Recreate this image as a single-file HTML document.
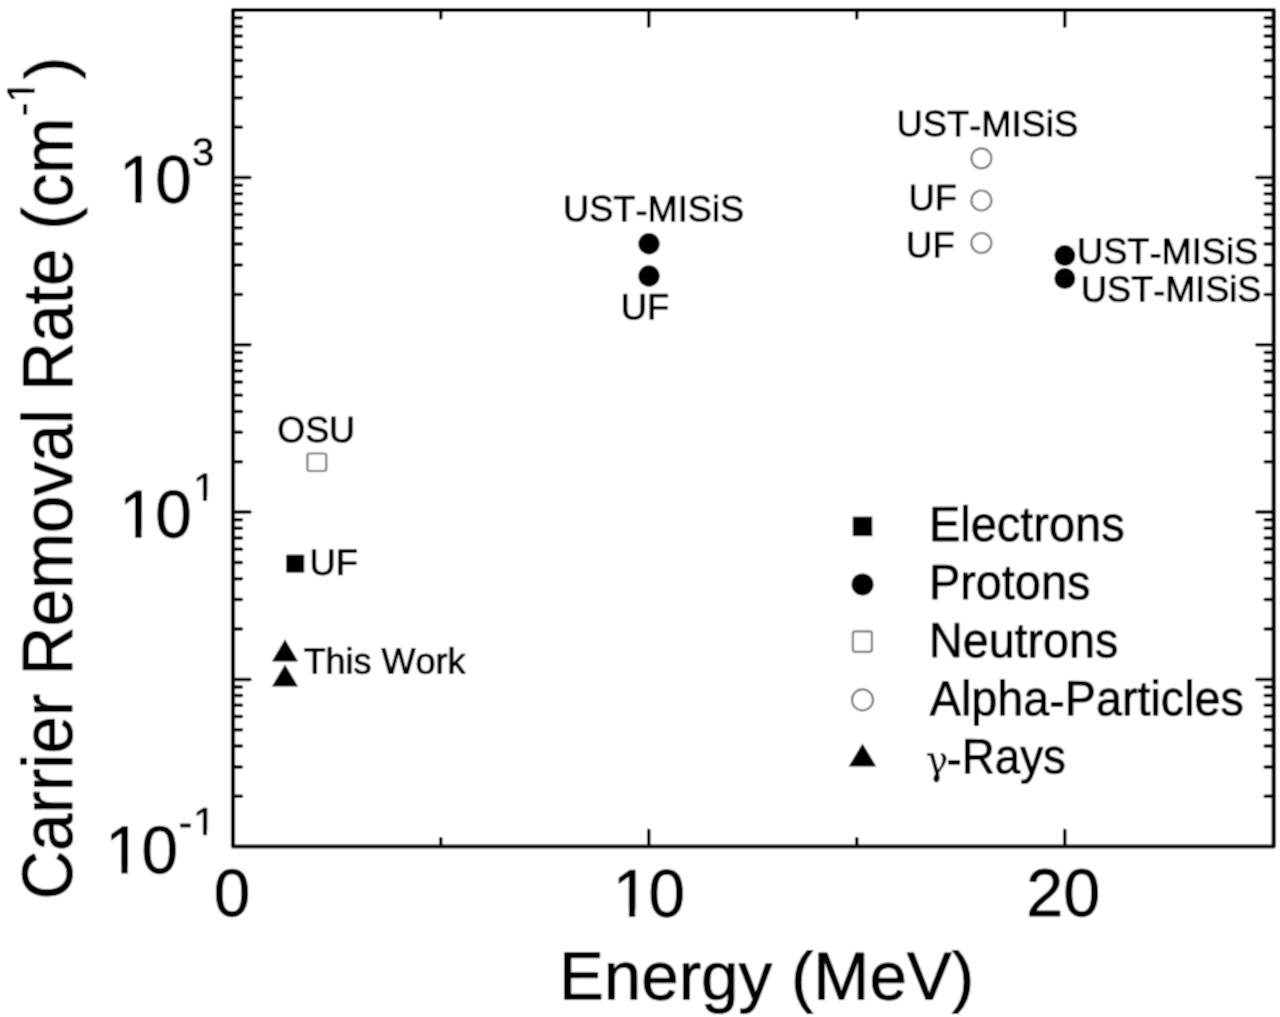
<!DOCTYPE html>
<html><head><meta charset="utf-8"><title>Carrier Removal Rate vs Energy</title>
<style>
html,body{margin:0;padding:0;background:#fff;}
svg{display:block;font-family:"Liberation Sans",sans-serif;}
text{text-rendering:geometricPrecision;font-kerning:none;fill:#000;stroke:#000;stroke-width:0.9px;stroke-linejoin:round;}
</style></head><body>
<svg width="1280" height="1017" viewBox="0 0 1280 1017">
<defs><filter id="soft" x="0" y="0" width="1280" height="1017" filterUnits="userSpaceOnUse"><feConvolveMatrix order="3" kernelMatrix="1 2 1 2 4 2 1 2 1" divisor="16" edgeMode="duplicate" preserveAlpha="true"/></filter></defs>
<rect width="1280" height="1017" fill="#fff"/>
<g filter="url(#soft)">
<rect width="1280" height="1017" fill="#fff"/>
<rect x="233.0" y="10.0" width="1040.70" height="836.50" fill="none" stroke="#000" stroke-width="4.2" stroke-linejoin="round"/>
<path d="M233.0 796.34h8.5 M1273.7 796.34h-8.5 M233.0 766.88h8.5 M1273.7 766.88h-8.5 M233.0 745.98h8.5 M1273.7 745.98h-8.5 M233.0 729.76h8.5 M1273.7 729.76h-8.5 M233.0 716.52h8.5 M1273.7 716.52h-8.5 M233.0 705.32h8.5 M1273.7 705.32h-8.5 M233.0 695.61h8.5 M1273.7 695.61h-8.5 M233.0 687.06h8.5 M1273.7 687.06h-8.5 M233.0 679.40h17.0 M1273.7 679.40h-17.0 M233.0 629.04h8.5 M1273.7 629.04h-8.5 M233.0 599.58h8.5 M1273.7 599.58h-8.5 M233.0 578.68h8.5 M1273.7 578.68h-8.5 M233.0 562.46h8.5 M1273.7 562.46h-8.5 M233.0 549.22h8.5 M1273.7 549.22h-8.5 M233.0 538.02h8.5 M1273.7 538.02h-8.5 M233.0 528.31h8.5 M1273.7 528.31h-8.5 M233.0 519.76h8.5 M1273.7 519.76h-8.5 M233.0 512.10h17.0 M1273.7 512.10h-17.0 M233.0 461.74h8.5 M1273.7 461.74h-8.5 M233.0 432.28h8.5 M1273.7 432.28h-8.5 M233.0 411.38h8.5 M1273.7 411.38h-8.5 M233.0 395.16h8.5 M1273.7 395.16h-8.5 M233.0 381.92h8.5 M1273.7 381.92h-8.5 M233.0 370.72h8.5 M1273.7 370.72h-8.5 M233.0 361.01h8.5 M1273.7 361.01h-8.5 M233.0 352.46h8.5 M1273.7 352.46h-8.5 M233.0 344.80h17.0 M1273.7 344.80h-17.0 M233.0 294.44h8.5 M1273.7 294.44h-8.5 M233.0 264.98h8.5 M1273.7 264.98h-8.5 M233.0 244.08h8.5 M1273.7 244.08h-8.5 M233.0 227.86h8.5 M1273.7 227.86h-8.5 M233.0 214.62h8.5 M1273.7 214.62h-8.5 M233.0 203.42h8.5 M1273.7 203.42h-8.5 M233.0 193.71h8.5 M1273.7 193.71h-8.5 M233.0 185.16h8.5 M1273.7 185.16h-8.5 M233.0 177.50h17.0 M1273.7 177.50h-17.0 M233.0 127.14h8.5 M1273.7 127.14h-8.5 M233.0 97.68h8.5 M1273.7 97.68h-8.5 M233.0 76.78h8.5 M1273.7 76.78h-8.5 M233.0 60.56h8.5 M1273.7 60.56h-8.5 M233.0 47.32h8.5 M1273.7 47.32h-8.5 M233.0 36.12h8.5 M1273.7 36.12h-8.5 M233.0 26.41h8.5 M1273.7 26.41h-8.5 M233.0 17.86h8.5 M1273.7 17.86h-8.5 M440.75 10.0v8.0 M440.75 846.5v-8.0 M648.75 10.0v16.2 M648.75 846.5v-16.2 M856.75 10.0v8.0 M856.75 846.5v-8.0 M1064.75 10.0v16.2 M1064.75 846.5v-16.2" stroke="#000" stroke-width="3.5" fill="none" stroke-linecap="round"/>
<text transform="translate(563.00 221.10) scale(1 1.0029) rotate(0.03)" font-size="36.23">UST<tspan dy="1.81">-</tspan><tspan dy="-1.81">MISiS</tspan></text>
<text transform="translate(620.71 319.35) scale(1 0.9983) rotate(0.03)" font-size="36.40">UF</text>
<text transform="translate(896.60 136.10) scale(1 1.0007) rotate(0.03)" font-size="36.31">UST<tspan dy="1.81">-</tspan><tspan dy="-1.81">MISiS</tspan></text>
<text transform="translate(908.51 210.00) scale(1 0.9983) rotate(0.03)" font-size="36.40">UF</text>
<text transform="translate(906.11 257.30) scale(1 0.9983) rotate(0.03)" font-size="36.40">UF</text>
<text transform="translate(1077.00 263.60) scale(1 1.0024) rotate(0.03)" font-size="36.25">UST<tspan dy="1.81">-</tspan><tspan dy="-1.81">MISiS</tspan></text>
<text transform="translate(1081.02 301.40) scale(1 1.0069) rotate(0.03)" font-size="36.09">UST<tspan dy="1.79">-</tspan><tspan dy="-1.79">MISiS</tspan></text>
<text transform="translate(277.20 442.05) scale(1 1.0112) rotate(0.03)" font-size="35.94">OSU</text>
<text transform="translate(309.41 574.70) scale(1 0.9983) rotate(0.03)" font-size="36.40">UF</text>
<text transform="translate(303.64 673.40) scale(1 1.0103) rotate(0.03)" font-size="35.97">This Work</text>
<text transform="translate(928.95 541.01) scale(1 1.0496) rotate(0.03)" font-size="46.95">Electrons</text>
<text transform="translate(928.96 599.06) scale(1 1.0519) rotate(0.03)" font-size="46.84">Protons</text>
<text transform="translate(928.97 657.11) scale(1 1.0555) rotate(0.03)" font-size="46.68">Neutrons</text>
<text transform="translate(929.81 715.16) scale(1 1.0554) rotate(0.03)" font-size="46.69">Alpha<tspan dy="2.21">-</tspan><tspan dy="-2.21">Particles</tspan></text>
<text transform="translate(923.98 774.03) scale(0.9543 1.0015) rotate(0.03)" font-size="39.5" style="font-family:'DejaVu Math TeX Gyre','DejaVu Serif',serif;stroke-width:0.3px">γ</text>
<text transform="translate(946.57 773.21) scale(1 1.0787) rotate(0.03)" font-size="45.68"><tspan dy="2.12">-</tspan><tspan dy="-2.12">Rays</tspan></text>
<text transform="translate(213.76 916.12) scale(1 1.0248) rotate(0.03)" font-size="65.60">0</text>
<text transform="translate(0 916.12) scale(1 1.0248) rotate(0.03)" x="612.66 648.61" font-size="65.60">10</text>
<rect x="616.05" y="909.50" width="12.80" height="8.22" fill="#fff"/>
<rect x="635.25" y="909.50" width="12.29" height="8.22" fill="#fff"/>
<text transform="translate(1026.16 916.02) scale(1 1.0113) rotate(0.03)" font-size="66.47">20</text>
<text transform="translate(558.88 999.35) scale(1 1.0082) rotate(0.03)" font-size="67.33">Energy (MeV)</text>
<text transform="translate(0 202.53) scale(1 1.0248) rotate(0.03)" x="118.96 155.21" font-size="65.60">10</text>
<rect x="122.35" y="195.90" width="12.80" height="8.22" fill="#fff"/>
<rect x="141.55" y="195.90" width="12.29" height="8.22" fill="#fff"/>
<text transform="translate(192.09 165.35) scale(1 0.9702) rotate(0.03)" font-size="40.00">3</text>
<text transform="translate(0 537.12) scale(1 1.0248) rotate(0.03)" x="118.96 155.21" font-size="65.60">10</text>
<rect x="122.35" y="530.50" width="12.80" height="8.22" fill="#fff"/>
<rect x="141.55" y="530.50" width="12.29" height="8.22" fill="#fff"/>
<text transform="translate(193.16 500.55) scale(1 0.9702) rotate(0.03)" font-size="40.00">1</text>
<rect x="194.60" y="496.05" width="8.31" height="6.10" fill="#fff"/>
<rect x="207.05" y="496.05" width="8.00" height="6.10" fill="#fff"/>
<text transform="translate(0 872.83) scale(1 1.0248) rotate(0.03)" x="105.16 141.56" font-size="65.60">10</text>
<rect x="108.55" y="866.20" width="12.80" height="8.22" fill="#fff"/>
<rect x="127.75" y="866.20" width="12.29" height="8.22" fill="#fff"/>
<text transform="translate(178.74 835.65) scale(1 0.9702) rotate(0.03)" font-size="40.00">-</text>
<text transform="translate(193.16 834.85) scale(1 0.9702) rotate(0.03)" font-size="40.00">1</text>
<rect x="194.60" y="830.35" width="8.31" height="6.10" fill="#fff"/>
<rect x="207.05" y="830.35" width="8.00" height="6.10" fill="#fff"/>
<g transform="translate(47.4 897.2) rotate(-90)"><text transform="translate(-2.42 24.45) scale(1 1.0553) rotate(0.03)" font-size="67.35">Carrier Removal Rate (cm</text><text transform="translate(781.14 -11.85) scale(1 0.9702) rotate(0.03)" font-size="40.00">-</text><text transform="translate(794.66 -13.20) scale(1 0.9702) rotate(0.03)" font-size="40.00">1</text><rect x="796.10" y="-17.70" width="8.31" height="6.10" fill="#fff"/><rect x="808.55" y="-17.70" width="8.00" height="6.10" fill="#fff"/><text transform="translate(818.05 24.28) scale(1 0.9856) rotate(0.03)" font-size="67.35">)</text></g>
<circle cx="649.0" cy="243.7" r="10.7" fill="#000"/>
<circle cx="649.0" cy="275.95" r="10.7" fill="#000"/>
<circle cx="1064.85" cy="255.6" r="10.5" fill="#000"/>
<circle cx="1064.85" cy="278.5" r="10.5" fill="#000"/>
<circle cx="981.4" cy="158.3" r="10.0" fill="#fff" stroke="#7a7a7a" stroke-width="2.2"/>
<circle cx="981.4" cy="200.5" r="10.0" fill="#fff" stroke="#7a7a7a" stroke-width="2.2"/>
<circle cx="981.4" cy="243.0" r="10.0" fill="#fff" stroke="#7a7a7a" stroke-width="2.2"/>
<rect x="307.40" y="453.50" width="18.9" height="17.5" rx="2.2" fill="#fff" stroke="#7a7a7a" stroke-width="2.2"/>
<rect x="286.25" y="554.65" width="18.0" height="18.0" fill="#000"/>
<path d="M285.0 639.2L298.1 661.5H271.9Z" fill="#000"/>
<path d="M285.0 664.5L298.1 686.6H271.9Z" fill="#000"/>
<rect x="852.75" y="516.65" width="19.5" height="19.5" fill="#000"/>
<circle cx="862.5" cy="584.4" r="11.0" fill="#000"/>
<rect x="852.90" y="631.40" width="19.0" height="20.4" rx="2.2" fill="#fff" stroke="#7a7a7a" stroke-width="2.2"/>
<circle cx="862.5" cy="699.9" r="10.5" fill="#fff" stroke="#7a7a7a" stroke-width="2.2"/>
<path d="M862.5 743.6L876.35 766.6H848.65Z" fill="#000"/>
</g>
</svg>
</body></html>
